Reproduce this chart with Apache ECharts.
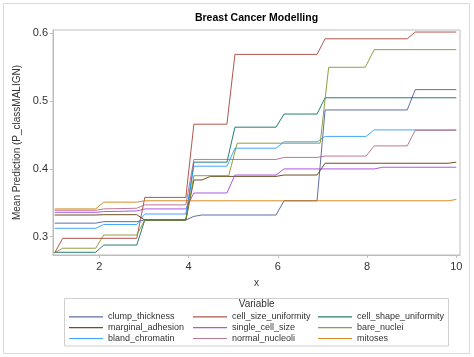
<!DOCTYPE html>
<html><head><meta charset="utf-8">
<script src="https://cdn.jsdelivr.net/npm/echarts@6/dist/echarts.min.js"></script>
<style>html,body{margin:0;padding:0;background:#fff}#c{width:474px;height:357px}</style>
</head><body><div id="c"></div>
<script>
// ---- data ----
const seriesNames = ['clump_thickness','cell_size_uniformity','cell_shape_uniformity',
  'marginal_adhesion','single_cell_size','bare_nuclei','bland_chromatin','normal_nucleoli','mitoses'];
const xTicks = [2, 4, 6, 8, 10];
const yTicks = [0.3, 0.4, 0.5, 0.6];

const clumpThickness = [[1,0.320],[1.92,0.320],[2.10,0.3222],[2.84,0.3222],[3.02,0.3247],[3.94,0.3247],[4.12,0.330],[4.30,0.332],[5.96,0.332],[6.14,0.353],[6.88,0.353],[7.06,0.487],[8.90,0.487],[9.08,0.517],[10,0.517]];
const cellSizeUniformity = [[1,0.276],[1.18,0.2976],[2.84,0.2976],[3.02,0.358],[3.94,0.358],[4.12,0.466],[4.86,0.466],[5.04,0.569],[6.88,0.569],[7.06,0.592],[8.90,0.592],[9.08,0.602],[10,0.602]];
const cellShapeUniformity = [[1,0.277],[1.92,0.277],[2.10,0.2877],[2.84,0.2877],[3.02,0.3247],[3.94,0.3247],[4.12,0.410],[4.86,0.410],[5.04,0.4616],[5.96,0.4616],[6.14,0.481],[6.88,0.481],[7.06,0.505],[10,0.505]];
const marginalAdhesion = [[1,0.332],[1.92,0.332],[2.10,0.3325],[2.84,0.3325],[3.02,0.3247],[3.94,0.3247],[4.12,0.3837],[4.30,0.3837],[4.49,0.389],[5.96,0.389],[6.14,0.391],[6.88,0.391],[7.06,0.4084],[9.82,0.4084],[10,0.410]];
const singleCellSize = [[1,0.336],[1.92,0.336],[2.10,0.337],[2.84,0.338],[3.02,0.341],[3.94,0.341],[4.12,0.3645],[4.86,0.3645],[5.04,0.391],[5.96,0.391],[6.14,0.400],[8.16,0.400],[8.35,0.4025],[10,0.4025]];
const bareNuclei = [[1,0.276],[1.18,0.283],[1.92,0.283],[2.10,0.3025],[2.84,0.3025],[3.02,0.3247],[3.94,0.3247],[4.12,0.390],[4.90,0.390],[5.09,0.438],[6.95,0.438],[7.14,0.550],[7.96,0.550],[8.16,0.576],[10,0.576]];
const blandChromatin = [[1,0.3124],[1.92,0.3124],[2.10,0.318],[2.84,0.318],[3.02,0.3335],[3.94,0.3335],[4.12,0.404],[4.86,0.404],[5.04,0.4306],[5.96,0.4306],[6.14,0.440],[6.88,0.440],[7.06,0.448],[7.98,0.448],[8.16,0.4576],[10,0.4576]];
const normalNucleoli = [[1,0.339],[1.92,0.339],[2.10,0.341],[2.84,0.342],[3.02,0.347],[3.94,0.347],[4.12,0.414],[5.96,0.414],[6.14,0.417],[6.88,0.417],[7.06,0.419],[7.98,0.419],[8.16,0.434],[8.90,0.434],[9.08,0.457],[10,0.457]];
const mitoses = [[1,0.341],[1.92,0.341],[2.10,0.351],[2.84,0.351],[3.02,0.353],[9.82,0.353],[10,0.355]];

const seriesData = [clumpThickness, cellSizeUniformity, cellShapeUniformity, marginalAdhesion,
  singleCellSize, bareNuclei, blandChromatin, normalNucleoli, mitoses];
const colors = ['#445694','#A23A2E','#01665E','#543005','#9D3CDB','#7F8E1F','#2597FA','#B26084','#D17800'];

// ---- chart ----
const font = 'Liberation Sans, Arial, sans-serif';
const chart = echarts.init(document.getElementById('c'), null, {renderer: 'canvas'});
const legendCol = (names, left) => ({
  orient: 'vertical', left: left, top: 311.5, padding: 0, icon: 'rect',
  itemWidth: 34, itemHeight: 1.2, itemGap: 0,
  selectedMode: false, data: names,
  textStyle: {fontFamily: font, fontSize: 9, color: '#333', lineHeight: 10.8}
});
chart.setOption({
  animation: false,
  grid: {left: 53, top: 30, right: 14, bottom: 102, show: true, borderColor: '#bdbdbd', borderWidth: 1},
  xAxis: {
    type: 'value', min: 0.963, max: 10.083,
    name: 'x', nameLocation: 'middle', nameGap: 23,
    nameTextStyle: {fontFamily: font, fontSize: 10, color: '#333'},
    axisLine: {lineStyle: {color: '#bdbdbd'}},
    axisTick: {show: true, length: 3, customValues: xTicks, lineStyle: {color: '#bdbdbd'}},
    axisLabel: {customValues: xTicks, fontFamily: font, fontSize: 11, color: '#333', margin: 6},
    splitLine: {show: false}
  },
  yAxis: {
    type: 'value', min: 0.273, max: 0.605,
    name: 'Mean Prediction (P_classMALIGN)', nameLocation: 'middle', nameGap: 28,
    nameTextStyle: {fontFamily: font, fontSize: 10, color: '#333'},
    axisLine: {show: true, lineStyle: {color: '#bdbdbd'}},
    axisTick: {show: true, length: 3, customValues: yTicks, lineStyle: {color: '#bdbdbd'}},
    axisLabel: {customValues: yTicks, fontFamily: font, fontSize: 11, color: '#333', margin: 5,
      formatter: v => v.toFixed(1)},
    splitLine: {show: false}
  },
  legend: [
    legendCol([seriesNames[0], seriesNames[3], seriesNames[6]], 69),
    legendCol([seriesNames[1], seriesNames[4], seriesNames[7]], 193),
    legendCol([seriesNames[2], seriesNames[5], seriesNames[8]], 318)
  ],
  graphic: [
    {type: 'rect', shape: {x: 3.5, y: 3.5, width: 466, height: 350}, style: {fill: null, stroke: '#d9d9d9', lineWidth: 1}, silent: true},
    {type: 'rect', shape: {x: 64.5, y: 298.5, width: 384, height: 47.5}, style: {fill: null, stroke: '#cfcfcf', lineWidth: 1}, silent: true},
    {type: 'text', x: 256.5, y: 18, style: {text: 'Breast Cancer Modelling', textAlign: 'center', textVerticalAlign: 'middle', font: 'bold 10.5px ' + font, fill: '#000'}},
    {type: 'text', x: 256.7, y: 304, style: {text: 'Variable', textAlign: 'center', textVerticalAlign: 'middle', font: '10px ' + font, fill: '#333'}}
  ],
  series: seriesNames.map((n, i) => ({
    name: n, type: 'line', data: seriesData[i], showSymbol: false, symbol: 'none', silent: true,
    itemStyle: {color: colors[i], opacity: 0.85}, lineStyle: {color: colors[i], width: 1, opacity: 0.85}
  }))
});
</script></body></html>
